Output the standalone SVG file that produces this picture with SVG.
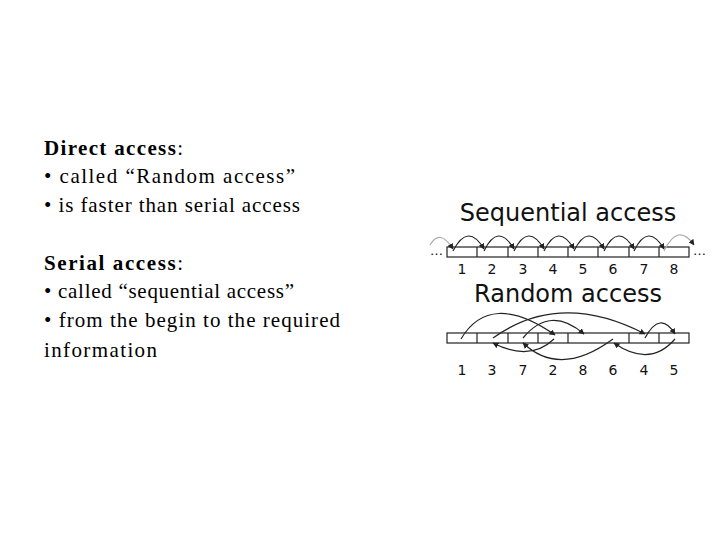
<svg xmlns="http://www.w3.org/2000/svg" width="720" height="540" viewBox="0 0 720 540">
<defs><marker id="a" viewBox="0 0 10 10" refX="9" refY="5" markerWidth="5" markerHeight="5" orient="auto"><path d="M0,0L10,5L0,10z" fill="#222"/></marker></defs>
<style>.t{font-family:"Liberation Serif",serif;font-size:21px;fill:#000}.s{font-family:"DejaVu Sans",sans-serif;fill:#111}.n{font-size:14px;text-anchor:middle}.h{font-size:24px;text-anchor:middle}.c{fill:none;stroke:#222;stroke-width:1.2}.arc{fill:none;stroke:#222;stroke-width:1.2;marker-end:url(#a)}</style>
<rect width="720" height="540" fill="#fff"/>
<g id="text">
<text class="t" x="44" y="155" textLength="139"><tspan font-weight="bold">Direct access</tspan>:</text>
<text class="t" x="44" y="183" textLength="251">• called “Random access”</text>
<text class="t" x="44" y="212" textLength="256">• is faster than serial access</text>
<text class="t" x="44" y="270" textLength="139"><tspan font-weight="bold">Serial access</tspan>:</text>
<text class="t" x="44" y="298" textLength="250">• called “sequential access”</text>
<text class="t" x="44" y="327" textLength="296">• from the begin to the required</text>
<text class="t" x="44" y="357" textLength="113">information</text>
</g>
<g id="seq">
<text class="s h" x="568" y="221">Sequential access</text>
<rect class="c" x="447" y="247" width="242" height="10"/>
<path class="c" d="M477,247V257M508,247V257M538,247V257M568,247V257M598,247V257M629,247V257M659,247V257"/>
<text class="s" x="430" y="255" font-size="13">…</text><text class="s" x="693" y="255" font-size="13">…</text>
<g class="s n"><text x="462" y="274">1</text><text x="492" y="274">2</text><text x="523" y="274">3</text><text x="553" y="274">4</text><text x="583" y="274">5</text><text x="613" y="274">6</text><text x="644" y="274">7</text><text x="674" y="274">8</text></g>
</g>
<g id="rand">
<text class="s h" x="568" y="302">Random access</text>
<rect class="c" x="447" y="333" width="242" height="10"/>
<path class="c" d="M477,333V343M508,333V343M538,333V343M568,333V343M629,333V343M659,333V343"/>
<g class="s n"><text x="462" y="375">1</text><text x="492" y="375">3</text><text x="523" y="375">7</text><text x="553" y="375">2</text><text x="583" y="375">8</text><text x="613" y="375">6</text><text x="644" y="375">4</text><text x="674" y="375">5</text></g>
</g>
<g id="connectors">
<path class="arc" style="stroke:#aaa" d="M430,245Q440,228 453,249"/>
<path class="arc" d="M453,251Q468,222 484,249"/>
<path class="arc" d="M484,251Q498,222 514,249"/>
<path class="arc" d="M514,251Q528,222 544,249"/>
<path class="arc" d="M544,251Q558,222 574,249"/>
<path class="arc" d="M574,251Q588,222 604,249"/>
<path class="arc" d="M604,251Q618,222 634,249"/>
<path class="arc" d="M634,251Q648,222 664,249"/>
<path class="arc" style="stroke:#aaa" d="M664,251Q678,222 694,245"/>
<path class="arc" d="M461,339Q490,290 555,335"/>
<path class="arc" d="M554,339Q530,362 493,343"/>
<path class="arc" d="M493,338Q560,290 645,334"/>
<path class="arc" d="M645,338Q660,310 675,334"/>
<path class="arc" d="M675,339Q650,368 614,343"/>
<path class="arc" d="M613,339Q560,378 523,343"/>
<path class="arc" d="M523,338Q550,305 584,334"/>
</g>
</svg>
